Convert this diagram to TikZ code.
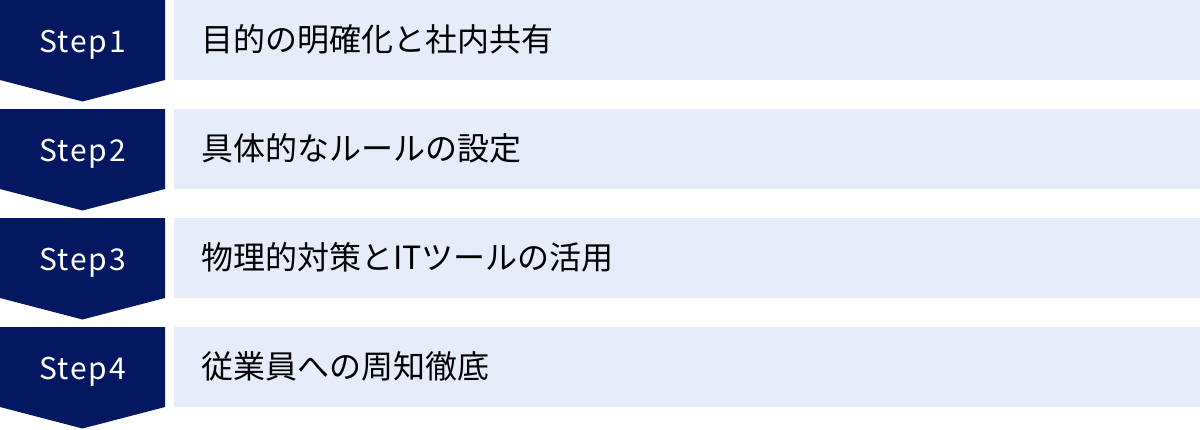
\documentclass[tikz,border=0pt]{standalone}
\usepackage{fontspec}
\newfontfamily\jpfont{Noto Sans CJK JP}
\newfontfamily\stepfont[LetterSpace=6]{Noto Sans CJK JP}
\definecolor{navy}{HTML}{041862}
\definecolor{paleblue}{HTML}{E6ECF9}

\begin{document}
\begin{tikzpicture}[x=1pt,y=-1pt,
  steplabel/.style={anchor=base,inner sep=0pt,text=white,font=\stepfont\fontsize{30}{30}\selectfont},
  tasklabel/.style={anchor=base west,inner sep=0pt,text=black,font=\jpfont\fontsize{32}{32}\selectfont}]
\useasboundingbox (0,0) rectangle (1200,429);
\foreach \i/\task in {1/目的の明確化と社内共有,2/具体的なルールの設定,3/物理的対策とITツールの活用,4/従業員への周知徹底}
{
\pgfmathsetmacro{\top}{109*(\i-1)}
\fill[navy] (0,\top) -- (165,\top) -- (165,\top+80) -- (82.5,\top+101.5) -- (0,\top+80) -- cycle;
\fill[paleblue] (174,\top) rectangle (1200,\top+80);
\node[steplabel] (step\i) at (82.5,\top+52) {Step\i};
\node[tasklabel] (task\i) at (201,\top+51) {\task};
}
\end{tikzpicture}
\end{document}
